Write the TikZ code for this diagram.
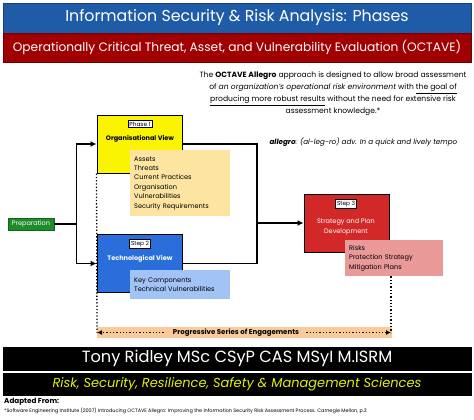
\documentclass[tikz,border=0pt]{standalone}
\usepackage{fontspec}
\setmainfont{Poppins}
\usetikzlibrary{calc}
\usetikzlibrary{arrows.meta}

\definecolor{titleblue}{RGB}{31,92,168}
\definecolor{octavered}{RGB}{160,0,0}
\definecolor{phaseyellow}{RGB}{250,244,0}
\definecolor{paleyellow}{RGB}{253,228,160}
\definecolor{prepgreen}{RGB}{30,140,40}
\definecolor{stepblue}{RGB}{42,110,220}
\definecolor{paleblue}{RGB}{162,195,245}
\definecolor{stepred}{RGB}{210,40,40}
\definecolor{palered}{RGB}{234,153,153}
\definecolor{bandorange}{RGB}{250,202,154}
\definecolor{sloganyellow}{RGB}{228,240,0}

\begin{document}
\begin{tikzpicture}[x=1pt,y=-1pt,
  bar/.style={draw=#1!70!black,fill=#1,minimum width=468,inner sep=0pt},
  viewbox/.style={draw,line width=1pt,minimum width=85,minimum height=58,inner sep=0pt},
  tagnode/.style={draw,fill=white,line width=.6pt,font=\fontsize{5.8}{6}\selectfont,inner sep=1.6pt},
  headnode/.style={font=\fontsize{6.5}{9}\bfseries\selectfont,align=center,inner sep=0pt},
  listbox/.style={anchor=north west,align=left,inner sep=4pt,font=\fontsize{6.6}{9.4}\selectfont},
  link/.style={line width=1.3pt},
  dotline/.style={line width=1.3pt,dotted}]

%\draw[help lines,step=20] (0,0) grid (474,420);
\useasboundingbox (0,0) rectangle (474,420);

% Title bars
\node[bar=titleblue,minimum height=30,text=white,font=\fontsize{15.8}{17}\selectfont] (title) at (237,18) {Information Security \& Risk Analysis: Phases};
\node[bar=octavered,minimum height=29,text=white,font=\fontsize{12.2}{14}\selectfont] (octave) at (237,47.5) {Operationally Critical Threat, Asset, and Vulnerability Evaluation (OCTAVE)};

% Description
\node[align=center,font=\fontsize{7.6}{12}\selectfont] (about) at (333,94) {The \textbf{OCTAVE Allegro} approach is designed to allow broad assessment\\ of \textit{an organization's operational risk environment} with \underline{the goal of}\\ \underline{producing more robust results} without the need for extensive risk\\ assessment knowledge.*};
\node[anchor=west,font=\fontsize{7.2}{8}\itshape\selectfont] (allegro) at (266,142) {\textbf{allegro}: (al-leg-ro) adv. In a quick and lively tempo};

% Preparation
\node[draw=prepgreen!70!black,fill=prepgreen,text=white,minimum width=46,minimum height=12,inner sep=0pt,font=\fontsize{6.5}{8}\selectfont] (prep) at (31,224) {Preparation};

% Progressive engagements (drawn first, boxes go on top)
\node[fill=bandorange,minimum width=295,minimum height=11,inner sep=0pt] (band) at (244.5,332.5) {};
\coordinate (engL) at (97,332.5);
\coordinate (engR) at (391,332.5);

% Phase 1
\node[viewbox,fill=phaseyellow] (org) at (139.5,144) {};
\draw[dotline] (org.south west) -- (engL);
\node[tagnode] (phase1) at (140,124) {Phase 1};
\node[headnode] (orgtitle) at (140,139) {Organisational View};
\node[listbox,fill=paleyellow,minimum width=100,minimum height=66,text width=92] (orglist) at (130,150) {Assets\\ Threats\\ Current Practices\\ Organisation\\ Vulnerabilities\\ Security Requirements};

% Step 2
\node[viewbox,fill=stepblue] (tech) at (139.5,263.5) {};
\node[tagnode] (step2) at (140,244) {Step 2};
\node[headnode,text=white] (techtitle) at (140,259) {Technological View};
\node[listbox,fill=paleblue,minimum width=100,minimum height=29,text width=92] (techlist) at (130,270) {Key Components\\ Technical Vulnerabilities};

% Step 3
\node[viewbox,fill=stepred] (plan) at (346.5,223) {};
\node[tagnode] (step3) at (346,204) {Step 3};
\node[headnode,text=white,font=\fontsize{6.5}{10}\selectfont] (plantitle) at (346,227) {Strategy and Plan\\ Development};
\node[listbox,fill=palered,minimum width=98,minimum height=36,text width=90] (planlist) at (345,240) {Risks\\ Protection Strategy\\ Mitigation Plans};
\draw[dotline] (planlist.south -| engR) -- (engR);

% Connectors
\coordinate (split) at ($(prep.east)+(22,0)$);
\coordinate (join) at (257,223);
\draw[link] (prep.east) -- (split);
\draw[link,-{Latex[length=6pt,width=6pt]}] (split) |- (org.west);
\draw[link,-{Latex[length=6pt,width=6pt]}] (split) |- (tech.west);
\draw[link] (org.east) -| (join);
\draw[link] (tech.east) -| (join);
\draw[link,-{Latex[length=6pt,width=6pt]}] (join) -- (plan.west);

% Engagements label
\node[fill=bandorange,inner sep=0pt,minimum height=10,font=\fontsize{7}{8}\bfseries\selectfont] (engage) at (236,332.5) {Progressive Series of Engagements};
\draw[dotline,-{Latex[length=5pt,width=5pt]}] ($(engage.west)+(-9,0)$) -- (engL);
\draw[dotline,-{Latex[length=5pt,width=5pt]}] ($(engage.east)+(7,0)$) -- (engR);

% Credits
\node[bar=black,minimum height=23,text=white,font=\fontsize{16.2}{18}\selectfont] (author) at (237,358.5) {Tony Ridley MSc CSyP CAS MSyI M.ISRM};
\node[bar=black,minimum height=22,text=sloganyellow,font=\fontsize{13}{14}\itshape\selectfont] (slogan) at (237,384) {Risk, Security, Resilience, Safety \& Management Sciences};
\node[anchor=west,inner sep=0pt,font=\fontsize{7.2}{8}\bfseries\selectfont] (adapted) at (4,402) {Adapted From:};
\node[anchor=west,inner sep=0pt,font=\fontsize{4.9}{6}\selectfont] (source) at (4,411) {*Software Engineering Institute (2007) Introducing OCTAVE Allegro: Improving the Information Security Risk Assessment Process. Carnegie Mellon, p.3};

\end{tikzpicture}
\end{document}
